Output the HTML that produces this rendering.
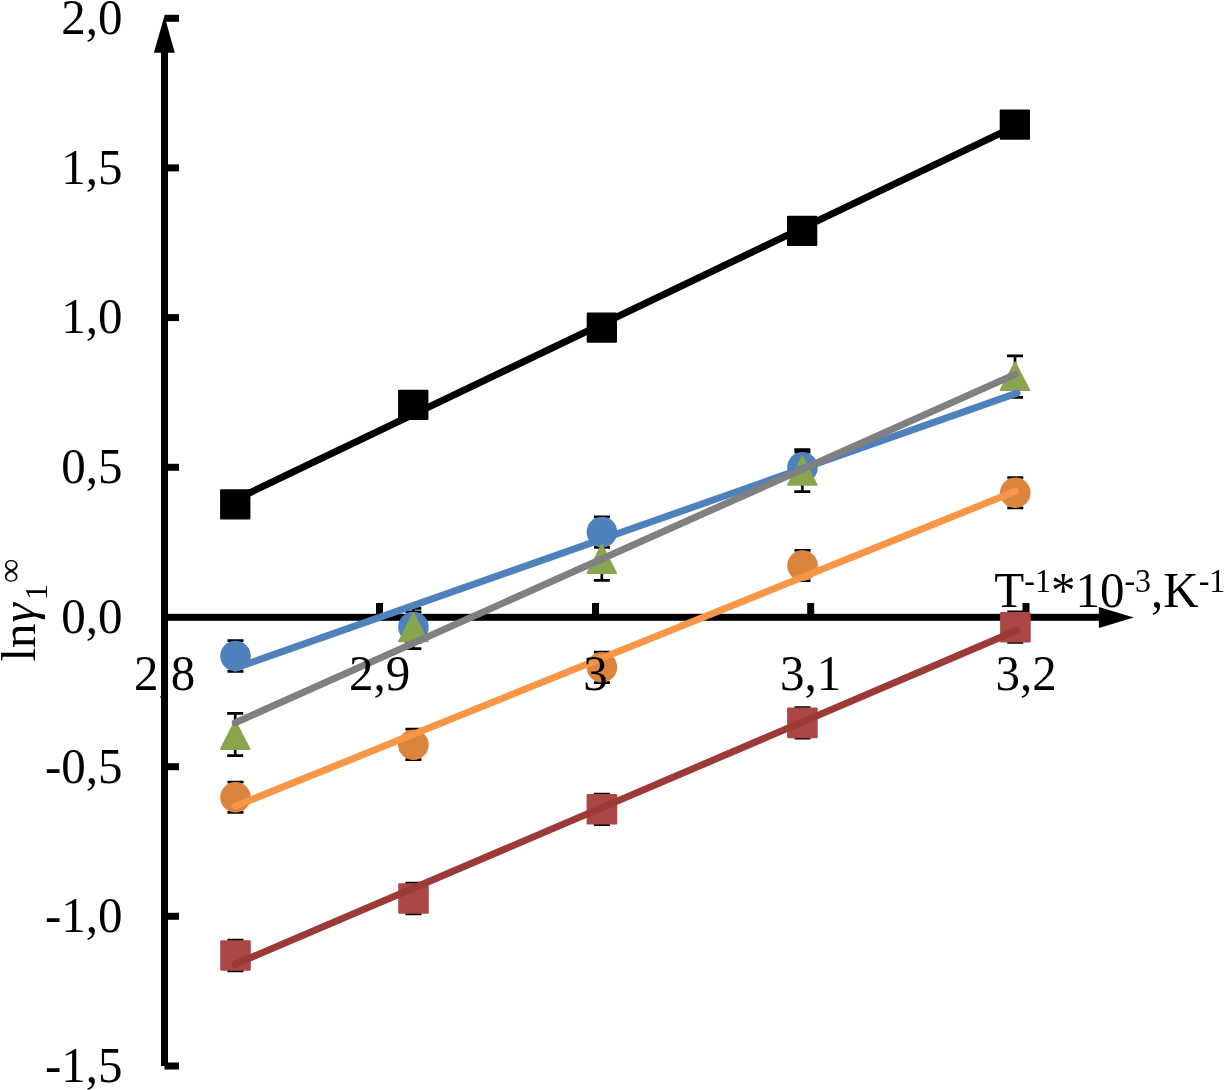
<!DOCTYPE html>
<html lang="en">
<head>
<meta charset="utf-8">
<title>ln γ1∞ versus reciprocal temperature</title>
<style>
  html, body { margin: 0; padding: 0; background: #ffffff; }
  body { width: 1225px; height: 1090px; overflow: hidden; position: relative; }
  svg { position: absolute; left: 0; top: 0; display: block; }
  text { font-family: "Liberation Serif", "DejaVu Serif", serif; fill: #000; }
  .tick { font-size: 49px; }
  .ttl  { font-size: 49px; }
  .sup  { font-size: 32px; }
</style>
</head>
<body>
<svg width="1225" height="1090" viewBox="0 0 1225 1090">
  <rect x="0" y="0" width="1225" height="1090" fill="#ffffff"/>

  <!-- ===== axes ===== -->
  <g id="axes" fill="#000" stroke="none">
    <!-- y axis shaft -->
    <rect x="161" y="48" width="7" height="1018"/>
    <!-- y arrow head -->
    <polygon points="164.4,16 174.8,52.8 153.9,52.8"/>
    <!-- x axis shaft -->
    <rect x="161" y="613.8" width="942" height="7"/>
    <!-- x arrow head -->
    <polygon points="1133.8,617.4 1098.9,627.9 1098.9,606.9"/>
    <!-- y ticks -->
    <rect x="164.5" y="14.8"   width="14.5" height="7"/>
    <rect x="164.5" y="164.4"  width="14.5" height="7"/>
    <rect x="164.5" y="314.1"  width="14.5" height="7"/>
    <rect x="164.5" y="463.8"  width="14.5" height="7"/>
    <rect x="164.5" y="763.2"  width="14.5" height="7"/>
    <rect x="164.5" y="912.8"  width="14.5" height="7"/>
    <rect x="164.5" y="1062.5" width="14.5" height="7"/>
    <!-- x ticks -->
    <rect x="376"    y="603" width="7" height="14"/>
    <rect x="592"    y="603" width="7" height="14"/>
    <rect x="807.2"  y="603" width="7" height="14"/>
    <rect x="1022.5" y="603" width="7" height="14"/>
  </g>

  <!-- ===== error bars ===== -->
  <g id="errorbars" stroke="#000" stroke-width="2.7" fill="none">
    <!-- blue -->
    <path d="M235.5 640.7V671.3M227.5 640.7h16M227.5 671.3h16"/>
    <path d="M413.4 611.8V642.4M405.4 611.8h16M405.4 642.4h16"/>
    <path d="M601.9 516.8V547.4M593.9 516.8h16M593.9 547.4h16"/>
    <path d="M802.5 452.1V482.7M794.5 452.1h16M794.5 482.7h16"/>
    <!-- green -->
    <path d="M235.2 713.4V755.6M227.2 713.4h16M227.2 755.6h16"/>
    <path d="M413.3 608.3V648.7M405.3 608.3h16M405.3 648.7h16"/>
    <path d="M601.8 537.7V580.3M593.8 537.7h16M593.8 580.3h16"/>
    <path d="M802.3 449.7V491.6M794.3 449.7h16M794.3 491.6h16"/>
    <path d="M1015 355.8V397.4M1007 355.8h16M1007 397.4h16"/>
    <!-- orange -->
    <path d="M235.5 782.1V812.4M227.5 782.1h16M227.5 812.4h16"/>
    <path d="M413.4 729.2V759.6M405.4 729.2h16M405.4 759.6h16"/>
    <path d="M601.9 652.2V682.6M593.9 652.2h16M593.9 682.6h16"/>
    <path d="M802.5 550.4V580.6M794.5 550.4h16M794.5 580.6h16"/>
    <path d="M1015.3 477.5V507.8M1007.3 477.5h16M1007.3 507.8h16"/>
    <!-- red -->
    <path d="M235.5 940.2V970.8M227.5 940.2h16M227.5 970.8h16"/>
    <path d="M413.5 883.2V913.8M405.5 883.2h16M405.5 913.8h16"/>
    <path d="M601.9 794.0V824.6M593.9 794.0h16M593.9 824.6h16"/>
    <path d="M802.5 707.6V738.2M794.5 707.6h16M794.5 738.2h16"/>
    <path d="M1015.3 611.9V642.5M1007.3 611.9h16M1007.3 642.5h16"/>
  </g>

  <!-- ===== markers ===== -->
  <g id="markers" stroke="none">
    <!-- black squares -->
    <g fill="#000">
      <rect x="220.1" y="489.2" width="30.3" height="30.3" rx="1"/>
      <rect x="398.1" y="389.7" width="30.3" height="30.3" rx="1"/>
      <rect x="586.7" y="312.5" width="30.3" height="30.3" rx="1"/>
      <rect x="787"   y="215.8" width="30.3" height="30.3" rx="1"/>
      <rect x="999.7" y="109.4" width="30.3" height="30.3" rx="1"/>
    </g>
    <!-- blue circles -->
    <g fill="#4f81bd">
      <circle cx="235.5" cy="656"   r="15.3"/>
      <circle cx="413.4" cy="627"   r="15.3"/>
      <circle cx="601.9" cy="532.1" r="15.3"/>
      <circle cx="802.5" cy="467.4" r="15.3"/>
    </g>
    <!-- green triangles -->
    <g fill="#89a54e" stroke="#89a54e" stroke-width="1.6" stroke-linejoin="round">
      <polygon points="235.2,720.6 249.7,749.1 220.7,749.1"/>
      <polygon points="413.3,612.8 427.8,641.5 398.8,641.5"/>
      <polygon points="601.8,544.7 616.3,573.1 587.3,573.1"/>
      <polygon points="802.3,456.4 816.8,484.9 787.8,484.9"/>
      <polygon points="1015,362.2 1029.5,390.1 1000.5,390.1"/>
    </g>
    <!-- orange circles -->
    <g fill="#db843d">
      <circle cx="235.5"  cy="797.3" r="15.3"/>
      <circle cx="413.4"  cy="744.8" r="15.3"/>
      <circle cx="601.9"  cy="667.3" r="15.3"/>
      <circle cx="802.5"  cy="565.6" r="15.3"/>
      <circle cx="1015.3" cy="492.7" r="15.3"/>
    </g>
    <!-- red squares -->
    <g fill="#aa4643">
      <rect x="220.2"  y="940.2" width="30.6" height="30.6" rx="1.2"/>
      <rect x="398.2"  y="883.2" width="30.6" height="30.6" rx="1.2"/>
      <rect x="586.6"  y="794"   width="30.6" height="30.6" rx="1.2"/>
      <rect x="787.1"  y="707.6" width="30.6" height="30.6" rx="1.2"/>
      <rect x="1000.1" y="611.9" width="30.6" height="30.6" rx="1.2"/>
    </g>
  </g>

  <!-- ===== trend lines ===== -->
  <g id="lines" fill="none" stroke-width="7" stroke-linecap="round">
    <line x1="235.25" y1="499.7" x2="1014.8" y2="126.3" stroke="#000"/>
    <line x1="235.4"  y1="668.1" x2="1017"   y2="393.1" stroke="#4f81bd"/>
    <line x1="235.2"  y1="722.8" x2="1015"   y2="374.4" stroke="#808080"/>
    <line x1="235.2"  y1="806.2" x2="1015.3" y2="491.3" stroke="#f79646"/>
    <line x1="235.2"  y1="964.3" x2="1016.5" y2="630.5" stroke="#9c3a38"/>
  </g>

  <!-- ===== text ===== -->
  <g id="ylabels" class="tick" text-anchor="end">
    <text transform="translate(122.5,33.8) scale(1,1.025)">2,0</text>
    <text transform="translate(122.5,183.7) scale(1,1.025)">1,5</text>
    <text transform="translate(122.5,333.4) scale(1,1.025)">1,0</text>
    <text transform="translate(122.5,483.1) scale(1,1.025)">0,5</text>
    <text transform="translate(122.5,632.8) scale(1,1.025)">0,0</text>
    <text transform="translate(122.5,782.5) scale(1,1.025)">-0,5</text>
    <text transform="translate(122.5,932.1) scale(1,1.025)">-1,0</text>
    <text transform="translate(122.5,1081.8) scale(1,1.025)">-1,5</text>
  </g>
  <g id="xlabels" class="tick" text-anchor="middle">
    <text transform="translate(164.5,690) scale(1,1.025)">2,8</text>
    <text transform="translate(379.5,690) scale(1,1.025)">2,9</text>
    <text transform="translate(595.5,690) scale(1,1.025)">3</text>
    <text transform="translate(810.7,690) scale(1,1.025)">3,1</text>
    <text transform="translate(1026,690) scale(1,1.025)">3,2</text>
  </g>

  <!-- x axis title -->
  <text class="ttl" transform="translate(994.3,606.8) scale(1,1.02)">T<tspan class="sup" dy="-14.7">-1</tspan><tspan dy="14.7">*10</tspan><tspan class="sup" dy="-14.7">-3</tspan><tspan dy="14.7">,K</tspan><tspan class="sup" dy="-14.7">-1</tspan></text>

  <!-- y axis title (rotated) -->
  <text class="tick" transform="translate(35,661.5) rotate(-90)" x="0" y="0">ln<tspan font-style="italic" dx="1">γ</tspan><tspan class="sup" dx="3.2" dy="11.8">1</tspan><tspan class="sup" style="font-size:34px" dx="1" dy="-25.6">∞</tspan></text>
</svg>
</body>
</html>
